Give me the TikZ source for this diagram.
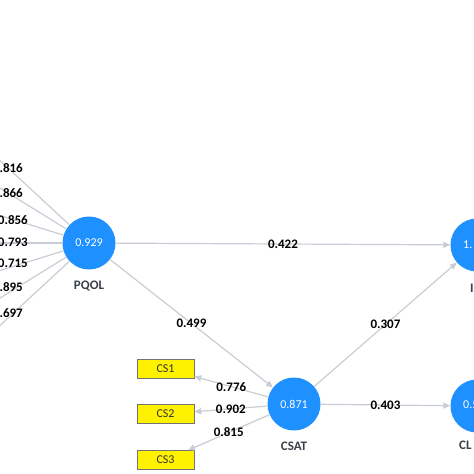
\documentclass[tikz,border=0pt]{standalone}
\usepackage{fontspec}
\setmainfont{Carlito}
\usepackage{tikz}
\usetikzlibrary{arrows.meta}

\definecolor{lvblue}{RGB}{30,144,255}
\definecolor{linegray}{RGB}{200,204,212}
\definecolor{namegray}{RGB}{58,64,72}

\tikzset{
  lv/.style={circle, fill=lvblue, minimum size=53pt, inner sep=0pt, text=white,
    font=\fontsize{12}{12}\selectfont},
  lvval/.style={text=white, inner sep=0pt, font=\fontsize{12}{12}\selectfont},
  mv/.style={rectangle, fill=yellow, draw=black!55, line width=0.6pt,
    minimum width=57pt, minimum height=19pt, inner sep=0pt, text=black!80,
    font=\fontsize{12}{12}\selectfont},
  lvname/.style={text=namegray, inner sep=0pt, font=\bfseries\fontsize{13}{13}\selectfont},
  coef/.style={text=black, inner sep=0pt, font=\bfseries\fontsize{13}{13}\selectfont},
  link/.style={draw=linegray, line width=1.2pt, -{Triangle[length=7pt,width=6pt]}},
  load/.style={draw=linegray, line width=1.2pt},
}

\begin{document}
\begin{tikzpicture}[x=1pt,y=-1pt]
\useasboundingbox (0,0) rectangle (474,474);
\clip (0,0) rectangle (474,474);

\node[lv] (PQOL) at (89,243) {0.929};
\node[lv] (CSAT) at (294,404) {0.871};
\node[lv] (rtop) at (477,245) {};
\node[lv] (rbot) at (477,406) {};
\node[lvval, anchor=west] (rtopval) at (463,245) {1.};
\node[lvval, anchor=west] (rbotval) at (463,405) {0.5};

\node[lvname] (PQOLname) at (89,286) {PQOL};
\node[lvname] (CSATname) at (294,446) {CSAT};
\node[lvname, anchor=west] (rtopname) at (470,288) {I};
\node[lvname, anchor=west] (rbotname) at (459,445) {CL};

\node[mv] (CS1) at (165.5,368.5) {CS1};
\node[mv] (CS2) at (165.5,414) {CS2};
\node[mv] (CS3) at (165.5,460) {CS3};

\foreach \i/\v/\lx/\ly in {1/0.816/23/168, 2/0.866/23/193, 3/0.856/28/220,
    4/0.793/28/242, 5/0.715/28/263, 6/0.895/23/287, 7/0.697/23/313}{
  \coordinate (ind\i) at (-30,{243+(\i-4)*27.5*119/89});
  \draw[load] (PQOL) -- (ind\i);
  \node[coef, anchor=east] (load\i) at (\lx,\ly) {\v};
}

\draw[link] (PQOL) -- (rtop) node[coef, midway] {0.422};
\draw[link] (PQOL) -- (CSAT) node[coef, midway] {0.499};
\draw[link] (CSAT) -- (rtop) node[coef, midway] {0.307};
\draw[link] (CSAT) -- (rbot) node[coef, midway] {0.403};
\draw[link] (CSAT) -- (CS1) node[coef, midway] {0.776};
\draw[link] (CSAT) -- (CS2) node[coef, midway] {0.902};
\draw[link] (CSAT) -- (CS3) node[coef, midway] {0.815};
\end{tikzpicture}
\end{document}
